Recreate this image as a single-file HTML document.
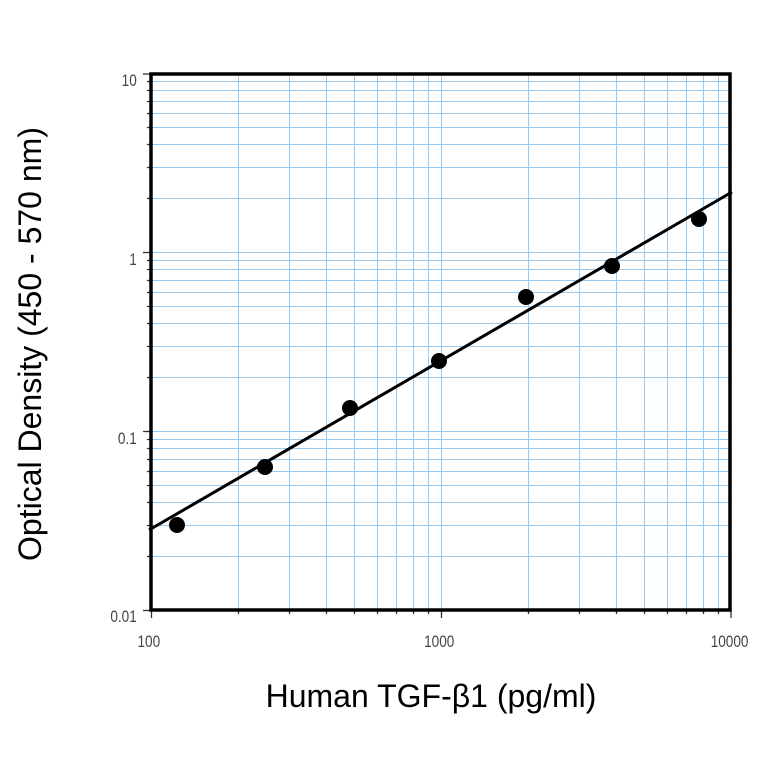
<!DOCTYPE html>
<html><head><meta charset="utf-8"><style>body{margin:0;background:#fff}svg{display:block}</style></head><body>
<svg width="781" height="760" xmlns="http://www.w3.org/2000/svg" font-family="Liberation Sans, sans-serif">
<g id="grid" stroke="#9ccbef" stroke-width="1"></g>
<g id="ticks" stroke="#333" stroke-width="1.3"></g>
<line x1="149" y1="530" x2="732" y2="192" stroke="#000" stroke-width="3"/>
<g fill="#000">
<circle cx="177" cy="525" r="8"/><circle cx="265" cy="467" r="8"/><circle cx="350" cy="408" r="8"/>
<circle cx="439" cy="361" r="8"/><circle cx="526" cy="297" r="8"/><circle cx="612" cy="266" r="8"/><circle cx="699" cy="219" r="8"/>
</g>
<rect x="151" y="74" width="579" height="536" fill="none" stroke="#000" stroke-width="3.5"/>
<g font-size="17" fill="#444" text-anchor="end" transform="scale(0.8,1)">
<text x="171" y="86">10</text><text x="171" y="265">1</text><text x="171" y="444">0.1</text><text x="171" y="622">0.01</text>
</g>
<g font-size="17" fill="#444" text-anchor="middle" transform="scale(0.8,1)">
<text x="186" y="647">100</text><text x="549" y="647">1000</text><text x="912" y="647">10000</text>
</g>
<text x="431" y="707" font-size="32" text-anchor="middle">Human TGF-β1 (pg/ml)</text>
<text transform="translate(41,344) rotate(-90)" font-size="32" text-anchor="middle">Optical Density (450 - 570 nm)</text>
<script>
var g=document.getElementById('grid'),t=document.getElementById('ticks'),ns='http://www.w3.org/2000/svg';
function L(p,a,b,c,d){var l=document.createElementNS(ns,'line');l.setAttribute('x1',a);l.setAttribute('y1',b);l.setAttribute('x2',c);l.setAttribute('y2',d);p.appendChild(l);}
for(var dd=0;dd<2;dd++)for(var k=1;k<=9;k++){var x=Math.round(151+290*(dd+Math.log10(k)))+0.5;if(k>1||dd>0)L(g,x,74,x,610);L(t,x,610,x,k==1?618:614);}
L(t,731,610,731,618);
for(var dd=0;dd<3;dd++)for(var k=1;k<=9;k++){var y=Math.round(610-179*(dd+Math.log10(k)))+0.5;if(k>1||dd>0)L(g,151,y,730,y);L(t,151,y,k==1?143:147,y);}
L(t,151,74,143,74);
</script>
</svg>
</body></html>
